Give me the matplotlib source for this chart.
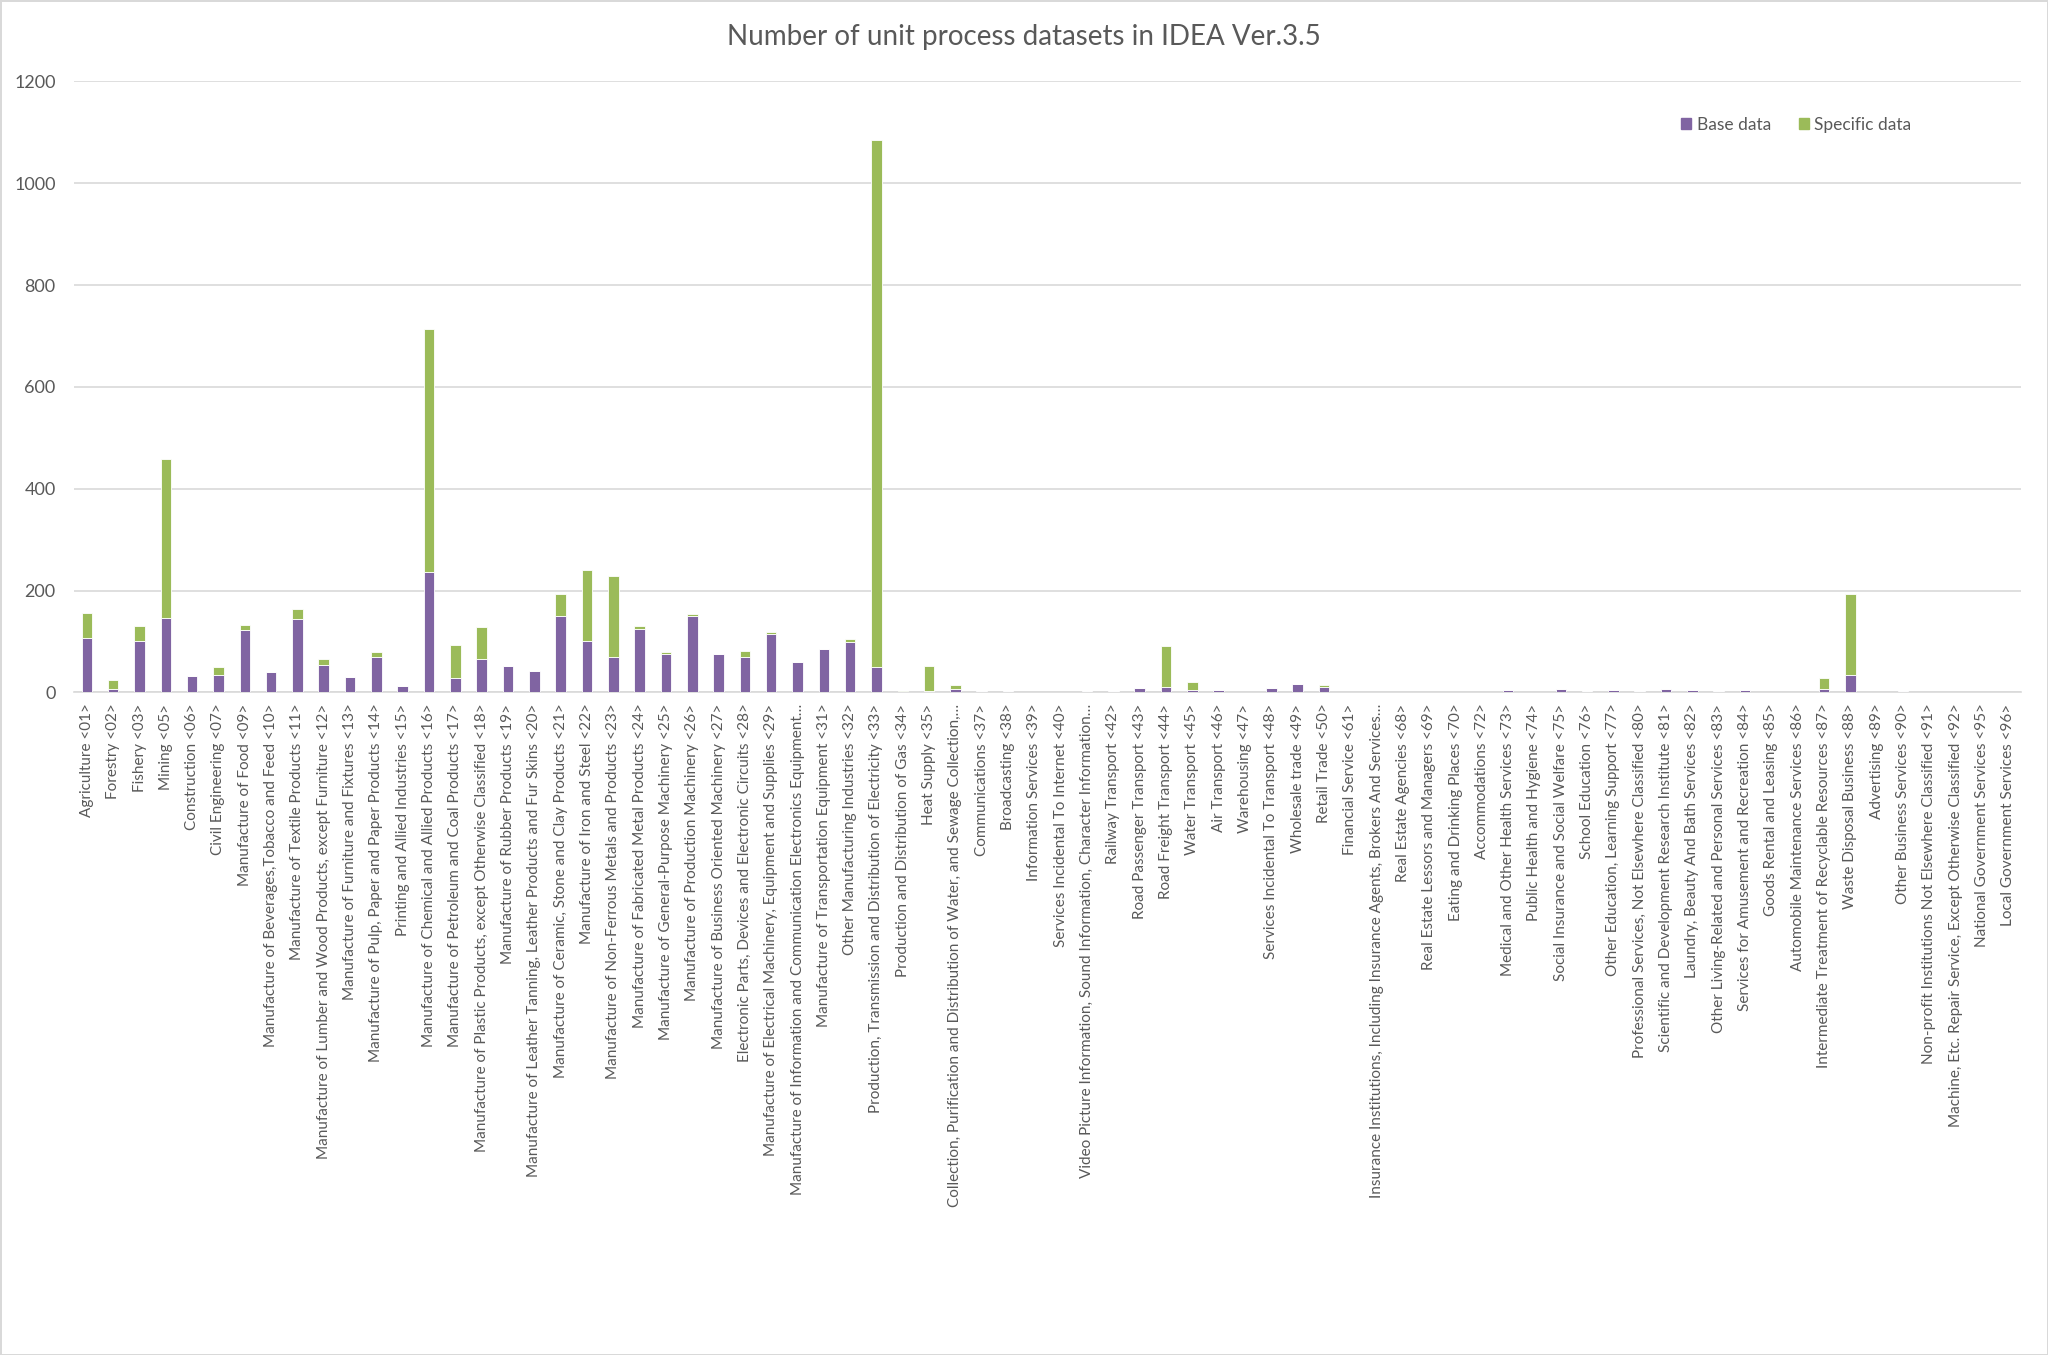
import matplotlib.pyplot as plt
from matplotlib.patches import Patch
import numpy as np

plt.rcParams['font.family'] = ['Lato', 'DejaVu Sans']

TEXT_COLOR = '#595959'
GRID_COLOR = '#D9D9D9'
BASE_COLOR = '#8064A2'
SPECIFIC_COLOR = '#9BBB59'

categories = [
    'Agriculture <01>', 'Forestry <02>', 'Fishery <03>', 'Mining <05>',
    'Construction <06>', 'Civil Engineering <07>', 'Manufacture of Food <09>',
    'Manufacture of Beverages,Tobacco and Feed <10>',
    'Manufacture of Textile Products <11>',
    'Manufacture of Lumber and Wood Products, except Furniture <12>',
    'Manufacture of Furniture and Fixtures <13>',
    'Manufacture of Pulp, Paper and Paper Products <14>',
    'Printing and Allied Industries <15>',
    'Manufacture of Chemical and Allied Products <16>',
    'Manufacture of Petroleum and Coal Products <17>',
    'Manufacture of Plastic Products, except Otherwise Classified <18>',
    'Manufacture of Rubber Products <19>',
    'Manufacture of Leather Tanning, Leather Products and Fur Skins <20>',
    'Manufacture of Ceramic, Stone and Clay Products <21>',
    'Manufacture of Iron and Steel <22>',
    'Manufacture of Non-Ferrous Metals and Products <23>',
    'Manufacture of Fabricated Metal Products <24>',
    'Manufacture of General-Purpose Machinery <25>',
    'Manufacture of Production Machinery <26>',
    'Manufacture of Business Oriented Machinery <27>',
    'Electronic Parts, Devices and Electronic Circuits <28>',
    'Manufacture of Electrical Machinery, Equipment and Supplies <29>',
    'Manufacture of Information and Communication Electronics Equipment…',
    'Manufacture of Transportation Equipment <31>',
    'Other Manufacturing Industries <32>',
    'Production, Transmission and Distribution of Electricity <33>',
    'Production and Distribution of Gas <34>', 'Heat Supply <35>',
    'Collection, Purification and Distribution of Water, and Sewage Collection,…',
    'Communications <37>', 'Broadcasting <38>', 'Information Services <39>',
    'Services Incidental To Internet <40>',
    'Video Picture Information, Sound Information, Character Information…',
    'Railway Transport <42>', 'Road Passenger Transport <43>',
    'Road Freight Transport <44>', 'Water Transport <45>', 'Air Transport <46>',
    'Warehousing <47>', 'Services Incidental To Transport <48>',
    'Wholesale trade <49>', 'Retail Trade <50>', 'Financial Service <61>',
    'Insurance Institutions, Including Insurance Agents, Brokers And Services…',
    'Real Estate Agencies <68>', 'Real Estate Lessors and Managers <69>',
    'Eating and Drinking Places <70>', 'Accommodations <72>',
    'Medical and Other Health Services <73>', 'Public Health and Hygiene <74>',
    'Social Insurance and Social Welfare <75>', 'School Education <76>',
    'Other Education, Learning Support <77>',
    'Professional Services, Not Elsewhere Classified <80>',
    'Scientific and Development Research Institute <81>',
    'Laundry, Beauty And Bath Services <82>',
    'Other Living-Related and Personal Services <83>',
    'Services for Amusement and Recreation <84>',
    'Goods Rental and Leasing <85>', 'Automobile Maintenance Services <86>',
    'Intermediate Treatment of Recyclable Resources <87>',
    'Waste Disposal Business <88>', 'Advertising <89>',
    'Other Business Services <90>',
    'Non-profit Institutions Not Elsewhere Classified <91>',
    'Machine, Etc. Repair Service, Except Otherwise Classified <92>',
    'National Government Services <95>', 'Local Government Services <96>',
]

base_data = [
    107, 7, 100, 147, 33, 34, 122, 40, 145, 54,
    30, 70, 12, 237, 28, 66, 51, 43, 151, 101,
    70, 125, 76, 150, 76, 70, 114, 60, 85, 98,
    49, 0, 3, 6, 3, 2, 0, 0, 2, 3,
    8, 10, 4, 5, 0, 8, 17, 11, 0, 1,
    0, 1, 1, 0, 4, 1, 6, 3, 4, 3,
    6, 4, 2, 5, 1, 0, 6, 34, 0, 2,
    1, 1, 0, 0,
]

specific_data = [
    49, 18, 30, 312, 0, 15, 10, 0, 19, 11,
    1, 10, 0, 476, 66, 62, 0, 0, 42, 140,
    158, 5, 4, 3, 0, 11, 5, 0, 0, 6,
    1036, 2, 48, 9, 0, 0, 0, 0, 0, 0,
    0, 82, 16, 0, 0, 0, 0, 4, 0, 0,
    0, 0, 0, 0, 0, 0, 0, 0, 0, 0,
    0, 0, 0, 0, 0, 0, 23, 159, 0, 0,
    0, 0, 0, 0,
]

x = np.arange(len(categories))

fig = plt.figure(figsize=(20.48, 13.55), dpi=100)
fig.patch.set_edgecolor(GRID_COLOR)
fig.patch.set_linewidth(2)
ax = fig.add_axes([0.036, 0.489, 0.951, 0.451])

ax.bar(x, base_data, width=0.4, color=BASE_COLOR, edgecolor='white',
       linewidth=0.6, label='Base data', zorder=3)
ax.bar(x, specific_data, width=0.4, bottom=base_data, color=SPECIFIC_COLOR,
       edgecolor='white', linewidth=0.6, label='Specific data', zorder=3)

ax.set_xlim(-0.5, len(categories) - 0.5)
ax.set_ylim(0, 1200)
ax.set_yticks(range(0, 1201, 200))
ax.yaxis.grid(True, color=GRID_COLOR, linewidth=1.2, zorder=0)
ax.set_axisbelow(True)

ax.set_xticks(x)
ax.set_xticklabels(categories, rotation=90, fontsize=11, color=TEXT_COLOR)
ax.tick_params(axis='both', length=0, pad=8)
ax.tick_params(axis='y', labelsize=13, labelcolor=TEXT_COLOR, pad=13)

for side in ['top', 'right', 'left']:
    ax.spines[side].set_visible(False)
ax.spines['bottom'].set_color(GRID_COLOR)
ax.spines['bottom'].set_linewidth(1.2)

fig.text(0.5, 0.973, 'Number of unit process datasets in IDEA Ver.3.5',
         ha='center', va='center', fontsize=20, color=TEXT_COLOR)

handles = [Patch(color=BASE_COLOR), Patch(color=SPECIFIC_COLOR)]
fig.legend(handles, ['Base data', 'Specific data'], loc='center',
           bbox_to_anchor=(0.877, 0.908), ncol=2, frameon=False,
           fontsize=12.5, labelcolor=TEXT_COLOR, handlelength=0.6,
           handleheight=0.6, handletextpad=0.3, columnspacing=1.6)

fig.savefig('out.png', dpi=100, facecolor='white')
